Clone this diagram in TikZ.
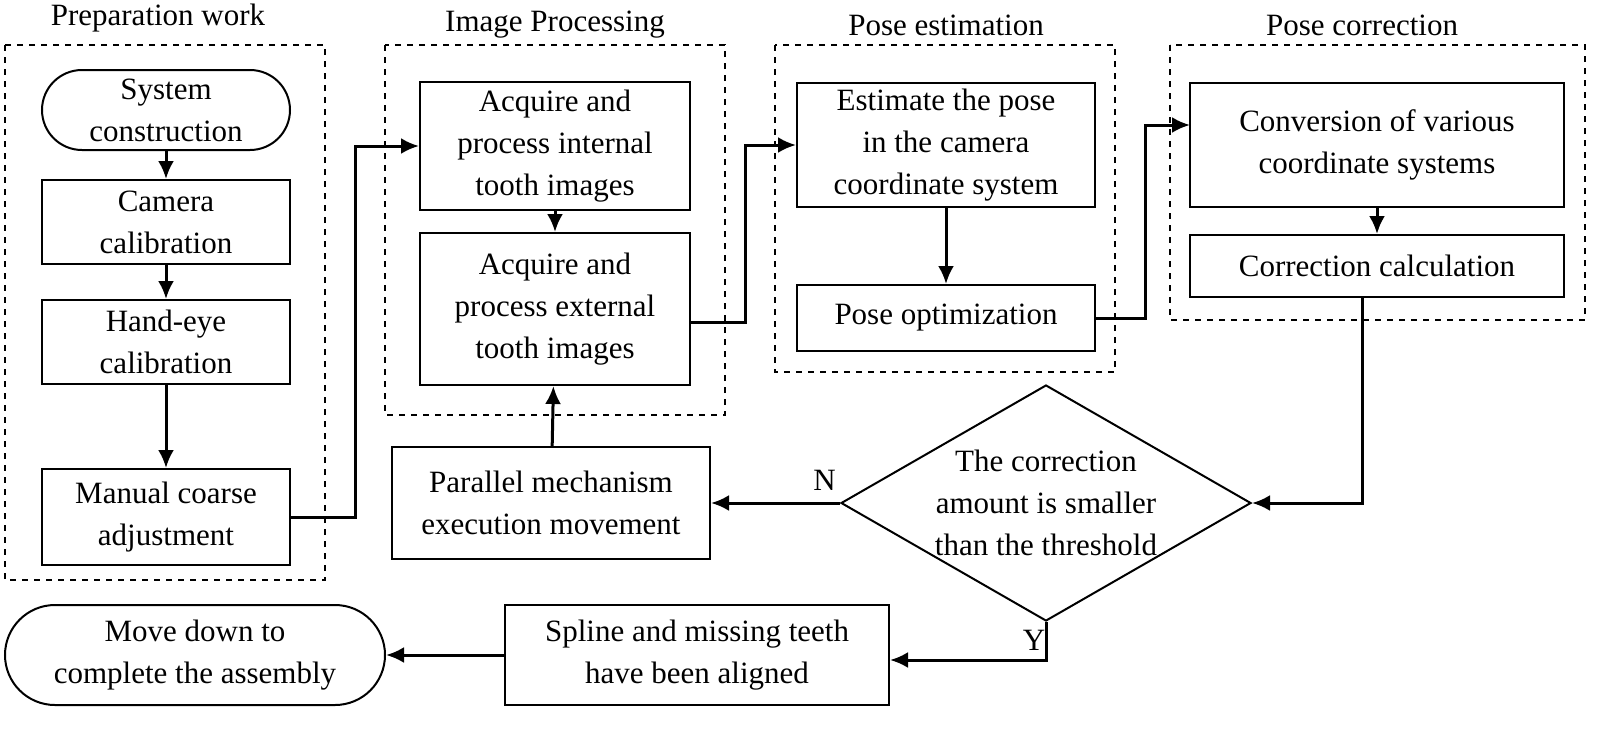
\documentclass[tikz,border=0pt]{standalone}
\usepackage{fontspec}
\setmainfont{Liberation Serif}
\usetikzlibrary{shapes.geometric,arrows.meta}
\begin{document}
\begin{tikzpicture}[x=0.5pt,y=-0.5pt,
 box/.style={draw,line width=1pt,align=center,font=\fontsize{15.5}{21}\selectfont,inner sep=0pt},
 grp/.style={draw,dashed,line width=0.8pt},
 ttl/.style={font=\fontsize{15.5}{18}\selectfont},
 arr/.style={line width=1.5pt,-{Latex[length=9pt,width=8pt]}}]
\useasboundingbox (0,0) rectangle (1600,740);
% groups
\draw[grp] (5,45) rectangle (325,580);
\draw[grp] (385,45) rectangle (725,415);
\draw[grp] (775,45) rectangle (1115,372);
\draw[grp] (1170,45) rectangle (1585,320);
\node[ttl] (t1) at (158,18) {Preparation work};
\node[ttl] (t2) at (555,25) {Image Processing};
\node[ttl] (t3) at (946,25) {Pose estimation};
\node[ttl] (t4) at (1362,25) {Pose correction};
% nodes
\node[box,rounded corners=20pt,minimum width=124pt,minimum height=40pt] (sys) at (166,110) {System\\construction};
\node[box,minimum width=124pt,minimum height=42pt] (cam) at (166,222) {Camera\\calibration};
\node[box,minimum width=124pt,minimum height=42pt] (hand) at (166,342) {Hand-eye\\calibration};
\node[box,minimum width=124pt,minimum height=48pt] (man) at (166,517) {Manual coarse\\adjustment};
\node[box,minimum width=135pt,minimum height=64pt] (int) at (555,146) {Acquire and\\process internal\\tooth images};
\node[box,minimum width=135pt,minimum height=76pt] (ext) at (555,309) {Acquire and\\process external\\tooth images};
\node[box,minimum width=149pt,minimum height=62pt] (est) at (946,145) {Estimate the pose\\in the camera\\coordinate system};
\node[box,minimum width=149pt,minimum height=33pt] (opt) at (946,318) {Pose optimization};
\node[box,minimum width=187pt,minimum height=62pt] (conv) at (1377,145) {Conversion of various\\coordinate systems};
\node[box,minimum width=187pt,minimum height=31pt] (corr) at (1377,266) {Correction calculation};
\node[box,diamond,aspect=1.73,minimum width=205pt,minimum height=118pt] (dia) at (1046,503) {The correction\\amount is smaller\\than the threshold};
\node[box,minimum width=159pt,minimum height=56pt] (par) at (551,503) {Parallel mechanism\\execution movement};
\node[box,minimum width=192pt,minimum height=50pt] (spl) at (697,655) {Spline and missing teeth\\have been aligned};
\node[box,rounded corners=25pt,minimum width=190pt,minimum height=50pt] (mov) at (195,655) {Move down to\\complete the assembly};
% connectors
\draw[arr] (sys) -- (cam);
\draw[arr] (cam) -- (hand);
\draw[arr] (hand) -- (man);
\draw[arr] (man.east) -- (355,517) |- (int.west);
\draw[arr] (int) -- (ext);
\draw[arr] (ext.east) ++(0,13) -- (745,322) |- (est.west);
\draw[arr] (est) -- (opt);
\draw[arr] (opt.east) -- (1145,318) |- (1190,125);
\draw[arr] (conv) -- (corr);
\draw[arr] (1362,297) -- (1362,503) -- (dia.east);
\draw[arr] (dia.west) -- (par.east) node[pos=0.12,above=2pt,ttl] (n) {N};
\draw[arr] (par) -- (ext);
\draw[arr] (dia.south) -- (1046,660) -- (spl.east |- 0,660);
\node[ttl] (y) at (1034,640) {Y};
\draw[arr] (spl) -- (mov);
\end{tikzpicture}
\end{document}
